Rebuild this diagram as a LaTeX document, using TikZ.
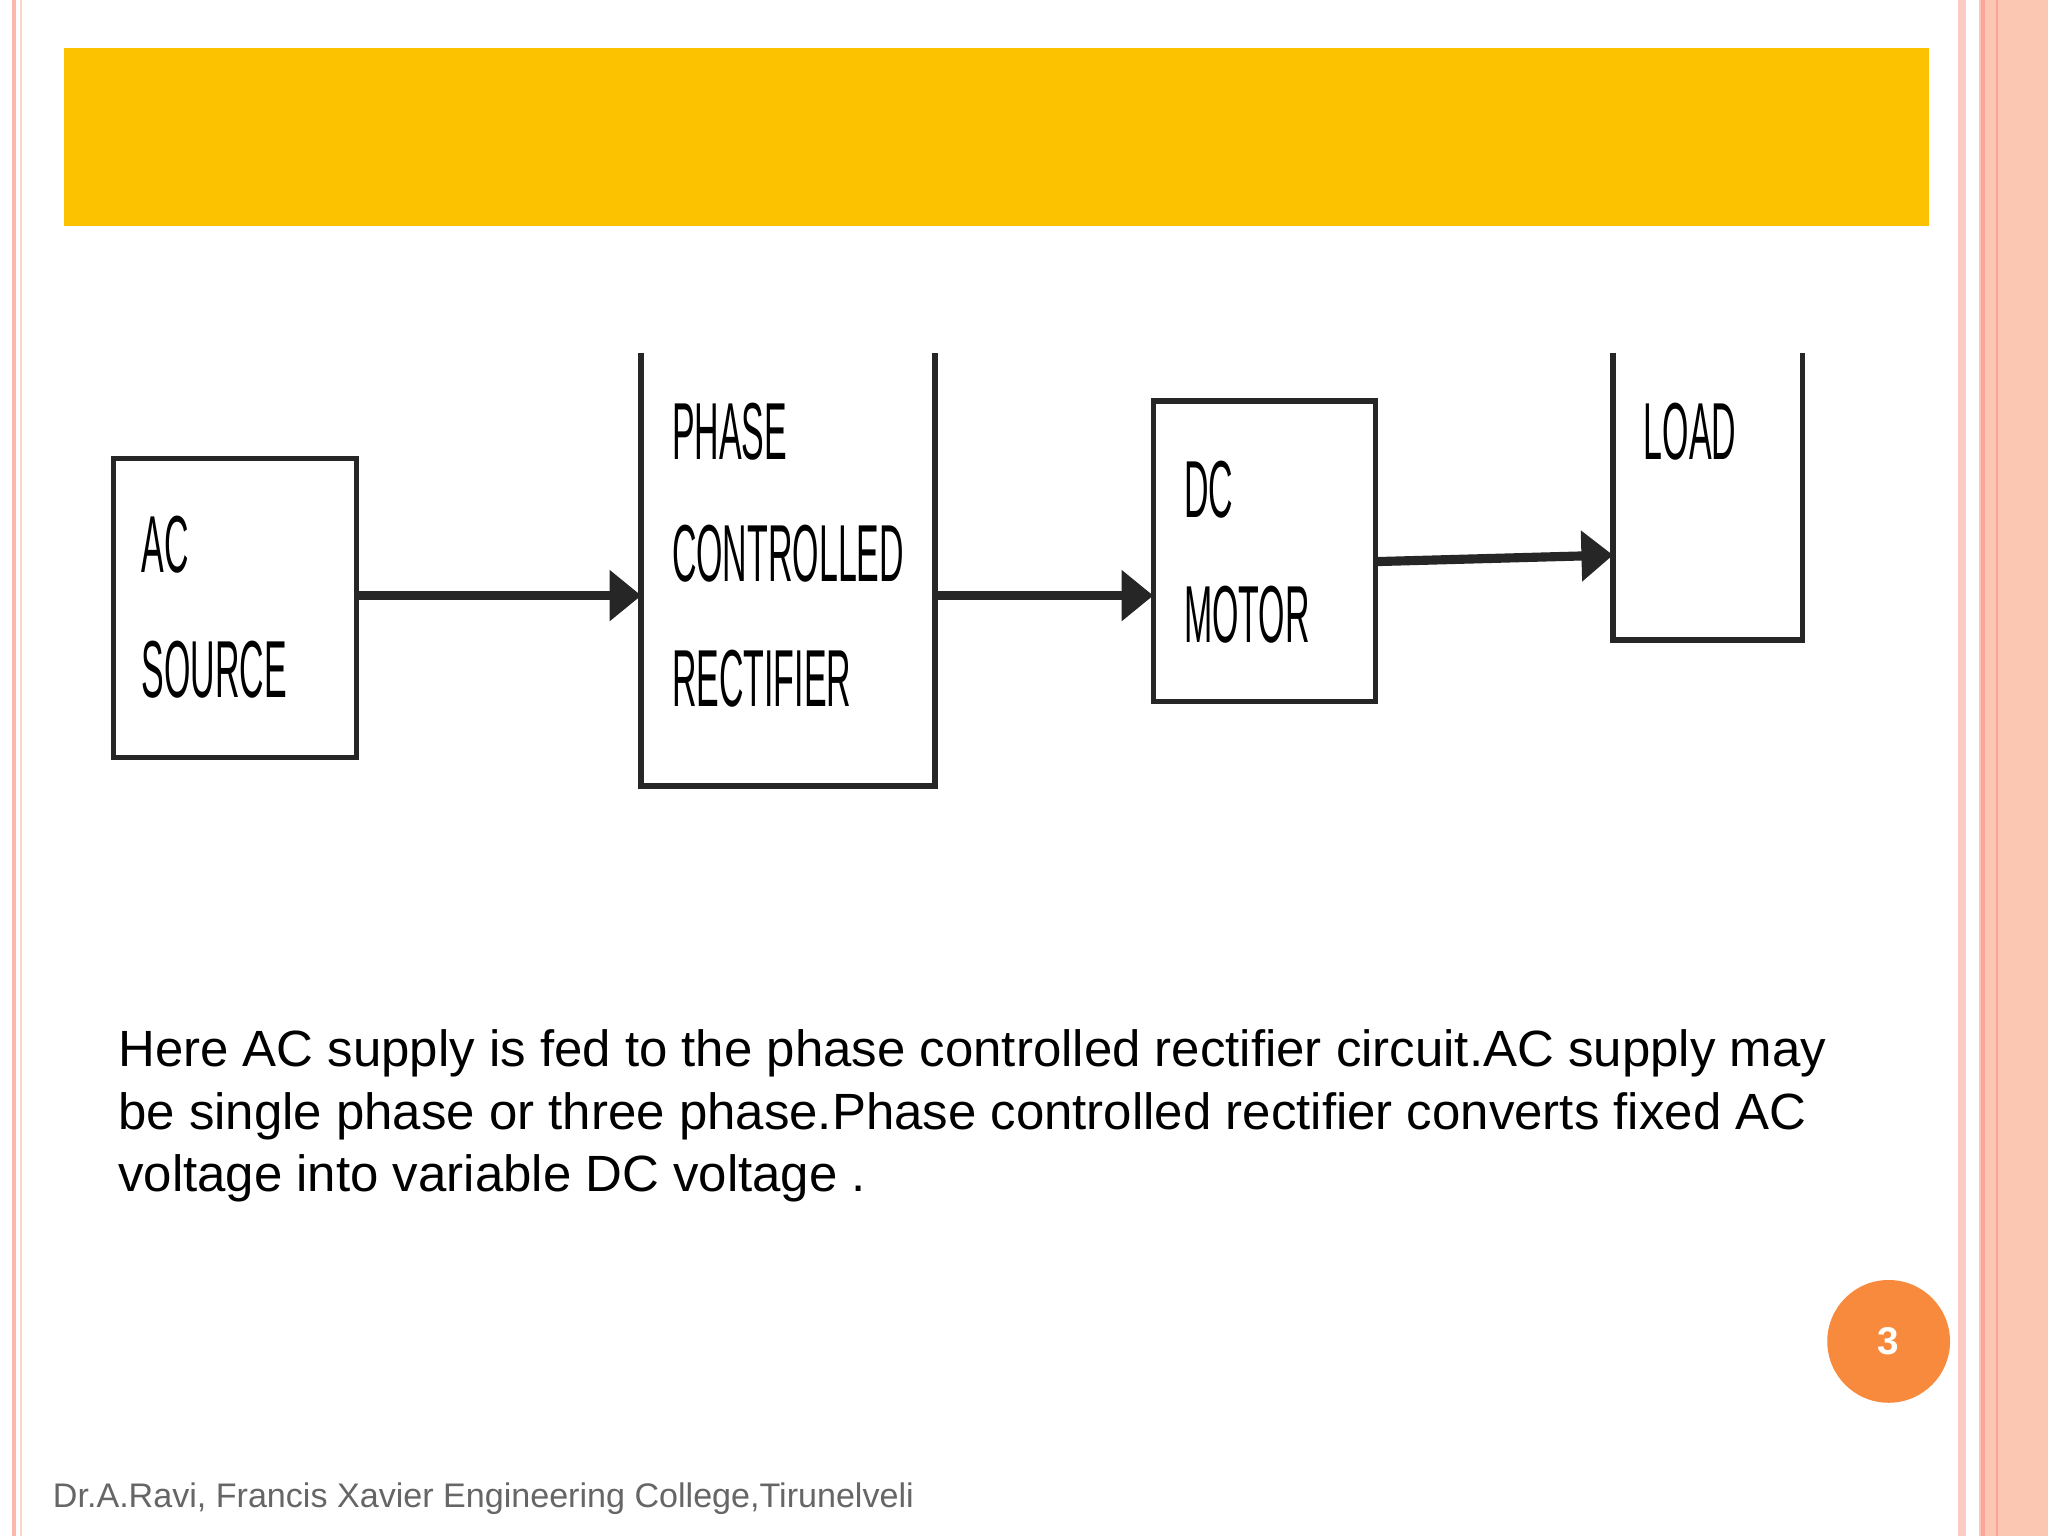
\documentclass[tikz,border=0pt]{standalone}
\usepackage{fontspec}
\setmainfont{Liberation Sans}
\usepackage{graphicx}
\usetikzlibrary{arrows.meta}
\definecolor{band}{HTML}{FCC200}
\definecolor{pinkl}{HTML}{F9B8A8}
\definecolor{peach}{HTML}{FBC7B2}
\definecolor{orng}{HTML}{F78A3C}
\tikzset{
  blk/.style={draw=black!85, line width=1.6pt},
  lbl/.style={anchor=base west, inner sep=0pt, font=\fontsize{23}{23}\selectfont},
  arr/.style={line width=2.6pt, black!85, -{Triangle[length=9pt,width=14pt]}}
}
\newcommand{\cond}[1]{\scalebox{0.42}[1]{#1}}
\begin{document}
\begin{tikzpicture}[x=0.013061cm,y=-0.013061cm]
\useasboundingbox (0,0) rectangle (1568,1176);
\fill[white] (0,0) rectangle (1568,1176);
% borders
\fill[pinkl] (9,0) rectangle (12,1176);
\fill[pinkl!60] (15,0) rectangle (17,1176);
\fill[pinkl!70] (1499,0) rectangle (1505,1176);
\fill[peach] (1515,0) rectangle (1568,1176);
\fill[pinkl!90!red] (1517,0) rectangle (1520,1176);
\fill[pinkl!90!red] (1528,0) rectangle (1530,1176);
% band
\fill[band] (49,37) rectangle (1477,173);
% boxes
\draw[blk] (87,351) rectangle (273,580);
\draw[blk] (491,270) -- (491,602) -- (716,602) -- (716,270);
\draw[blk] (883,307) rectangle (1053,537);
\draw[blk] (1235,270) -- (1235,490) -- (1380,490) -- (1380,270);
\coordinate (a1) at (273,456); \coordinate (a2) at (491,456);
\coordinate (b1) at (716,456); \coordinate (b2) at (883,456);
\coordinate (c1) at (1053,430); \coordinate (c2) at (1235,425);
\draw[arr] (a1) -- (a2);
\draw[arr] (b1) -- (b2);
\draw[arr] (c1) -- (c2);
% labels
\node[lbl] (t1) at (108,438) {\cond{AC}};
\node[lbl] (t2) at (108,534) {\cond{SOURCE}};
\node[lbl] (t3) at (514,352) {\cond{PHASE}};
\node[lbl] (t4) at (514,445) {\cond{CONTROLLED}};
\node[lbl] (t5) at (514,541) {\cond{RECTIFIER}};
\node[lbl] (t6) at (906,396) {\cond{DC}};
\node[lbl] (t7) at (906,492) {\cond{MOTOR}};
\node[lbl] (t8) at (1258,352) {\cond{LOAD}};
% paragraph
\node[anchor=north west, inner sep=0pt, align=left,
  font=\fontsize{14.5}{17.8}\selectfont] (p) at (90,788)
  {Here AC supply is fed to the phase controlled rectifier circuit.AC supply may\\
   be single phase or three phase.Phase controlled rectifier converts fixed AC\\
   voltage into variable DC voltage .};
% page number
\node[circle, fill=orng, minimum size=94*0.013061cm, inner sep=0pt,
  text=white, font=\bfseries\fontsize{11}{11}\selectfont] (n) at (1446,1027) {3};
% footer
\node[anchor=base west, inner sep=0pt, text=black!60,
  font=\fontsize{9.7}{9.7}\selectfont] (f) at (40,1154)
  {Dr.A.Ravi, Francis Xavier Engineering College,Tirunelveli};
\end{tikzpicture}
\end{document}
